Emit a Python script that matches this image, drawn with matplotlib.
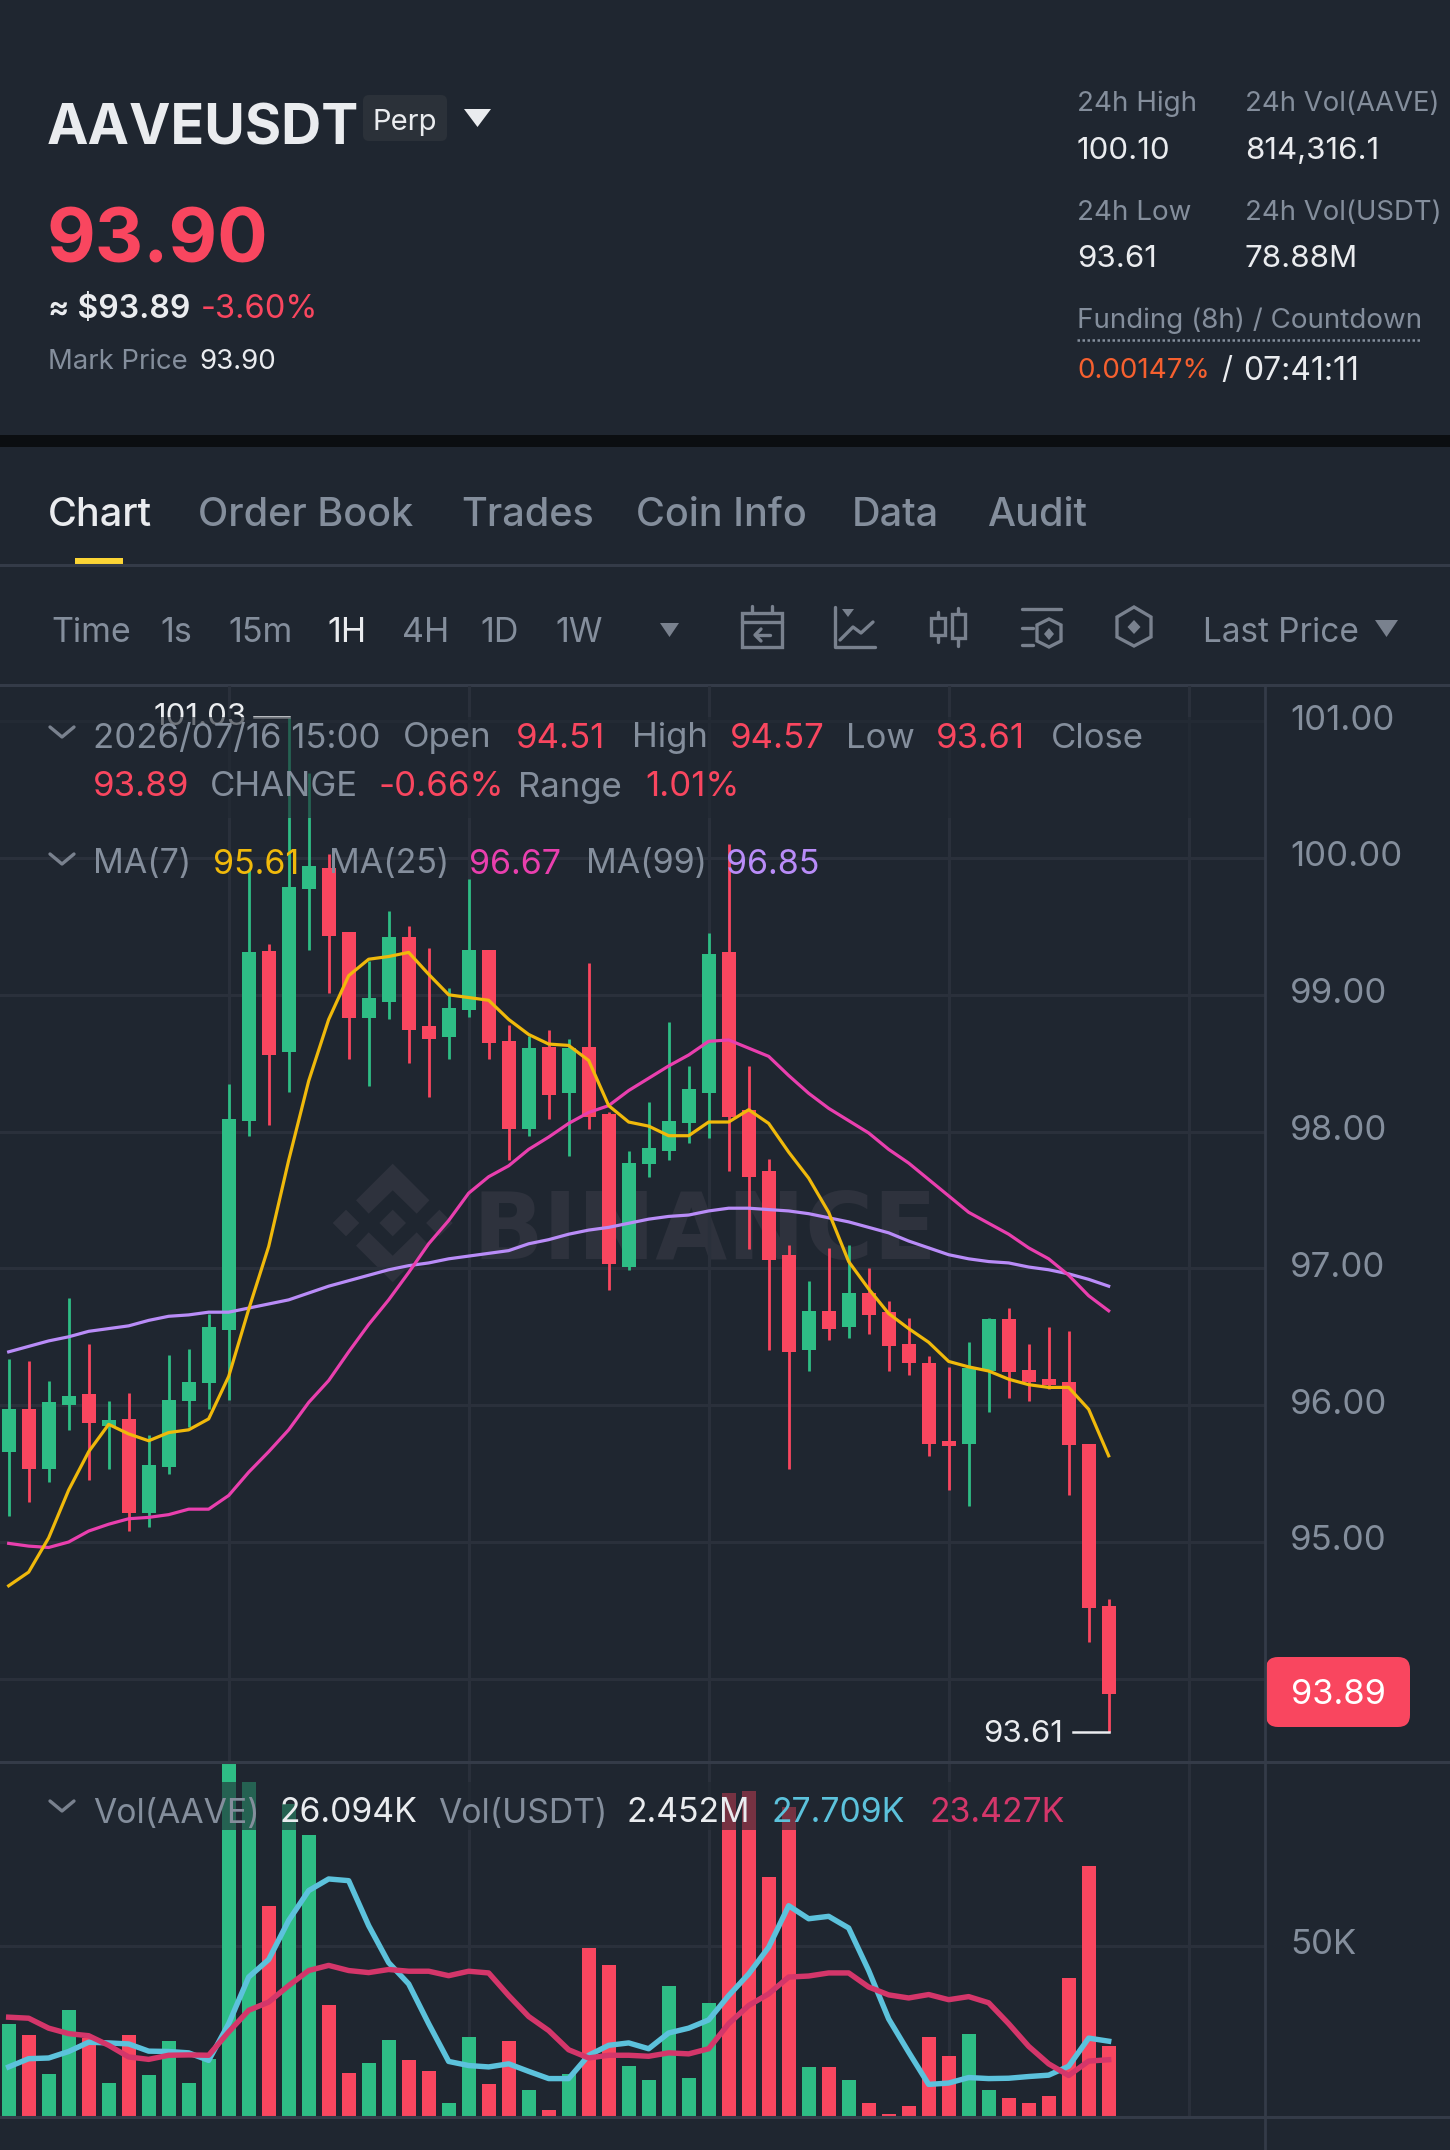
import matplotlib
matplotlib.use("Agg")
import matplotlib.pyplot as plt
from matplotlib.patches import Rectangle, Polygon, FancyBboxPatch
from matplotlib.transforms import ScaledTranslation

W, H = 1450, 2150
BG = "#1F2630"
GRID = "#2A303B"
BORDER = "#343B48"
GREEN = "#2EBD85"
RED = "#F9465F"
GREY = "#848E9C"
WHITE = "#EAECEF"
ICON = "#79818E"
YELLOW = "#F0B90B"
PINK = "#E93FAE"
PURPLE = "#B98CF8"
VOL_BLUE = "#5CC2DC"
VOL_RED = "#D4366A"

plt.rcParams["font.family"] = ["Inter", "DejaVu Sans"]

opens = [95.66, 95.97, 95.53, 96.00, 96.08, 95.85, 95.90, 95.21, 95.55, 96.03, 96.16, 96.55, 98.08, 99.32,
         98.58, 99.77, 99.93, 99.46, 98.83, 98.95, 99.42, 98.77, 98.69, 98.89, 99.33, 98.66, 98.02, 98.62,
         98.28, 98.62, 98.13, 97.01, 97.76, 97.86, 98.06, 98.28, 99.31, 98.16, 97.71, 97.10, 96.40, 96.69,
         96.57, 96.82, 96.68, 96.45, 96.31, 95.74, 95.72, 96.25, 96.63, 96.26, 96.19, 96.17, 95.72, 94.53]
closes = [95.97, 95.53, 96.02, 96.07, 95.87, 95.89, 95.21, 95.56, 96.04, 96.17, 96.57, 98.09, 99.31, 98.56,
          99.79, 99.94, 99.43, 98.83, 98.98, 99.42, 98.74, 98.68, 98.90, 99.33, 98.65, 98.02, 98.61, 98.27,
          98.61, 98.11, 97.03, 97.77, 97.88, 98.08, 98.31, 99.30, 98.11, 97.67, 97.06, 96.39, 96.69, 96.56,
          96.82, 96.66, 96.43, 96.31, 95.72, 95.70, 96.27, 96.63, 96.24, 96.17, 96.15, 95.71, 94.52, 93.89]
highs = [96.34, 96.32, 96.18, 96.78, 96.45, 96.03, 96.09, 95.78, 96.37, 96.41, 96.67, 98.35, 99.92, 99.37,
         101.03, 100.62, 100.03, 99.46, 99.25, 99.61, 99.50, 99.34, 99.05, 99.85, 99.33, 98.78, 98.70, 98.74,
         98.68, 99.23, 98.14, 97.86, 98.22, 98.80, 98.48, 99.45, 100.10, 98.48, 97.80, 97.17, 96.91, 97.15,
         97.17, 97.00, 96.76, 96.64, 96.36, 96.28, 96.46, 96.64, 96.71, 96.45, 96.57, 96.54, 95.72, 94.58]
lows = [95.19, 95.29, 95.44, 95.82, 95.45, 95.53, 95.08, 95.11, 95.50, 95.84, 95.97, 96.04, 97.97, 98.05,
        98.29, 99.33, 99.01, 98.53, 98.33, 98.82, 98.50, 98.25, 98.53, 98.84, 98.53, 97.79, 97.97, 98.09,
        97.82, 98.02, 96.84, 96.99, 97.67, 97.79, 97.92, 97.95, 97.71, 97.14, 96.40, 95.53, 96.25, 96.48,
        96.49, 96.52, 96.25, 96.22, 95.63, 95.38, 95.26, 95.95, 96.05, 96.03, 96.12, 95.34, 94.27, 93.61]
ma7 = [94.68, 94.78, 95.03, 95.38, 95.66, 95.86, 95.79, 95.74, 95.80, 95.82, 95.90, 96.21, 96.70, 97.16,
       97.79, 98.37, 98.82, 99.14, 99.26, 99.28, 99.31, 99.15, 99.00, 98.98, 98.96, 98.82, 98.71, 98.64,
       98.63, 98.52, 98.19, 98.07, 98.04, 97.97, 97.97, 98.07, 98.07, 98.16, 98.06, 97.85, 97.66, 97.41,
       97.05, 96.85, 96.67, 96.56, 96.46, 96.32, 96.28, 96.25, 96.19, 96.15, 96.13, 96.13, 95.97, 95.63]
ma25 = [94.99, 94.97, 94.96, 95.00, 95.08, 95.13, 95.17, 95.18, 95.20, 95.24, 95.24, 95.34, 95.51, 95.66,
        95.82, 96.02, 96.18, 96.39, 96.59, 96.77, 96.97, 97.18, 97.35, 97.55, 97.67, 97.75, 97.87, 97.96,
        98.06, 98.14, 98.19, 98.30, 98.39, 98.48, 98.56, 98.66, 98.67, 98.61, 98.55, 98.41, 98.28, 98.17,
        98.08, 97.99, 97.87, 97.77, 97.65, 97.53, 97.41, 97.33, 97.25, 97.15, 97.07, 96.95, 96.80, 96.69]
ma99 = [96.39, 96.43, 96.47, 96.50, 96.54, 96.56, 96.58, 96.62, 96.65, 96.66, 96.68, 96.68, 96.71, 96.74,
        96.77, 96.82, 96.87, 96.91, 96.95, 96.99, 97.02, 97.04, 97.07, 97.09, 97.11, 97.13, 97.18, 97.21,
        97.25, 97.28, 97.30, 97.33, 97.36, 97.38, 97.39, 97.42, 97.44, 97.44, 97.43, 97.42, 97.40, 97.37,
        97.34, 97.30, 97.26, 97.20, 97.15, 97.10, 97.07, 97.05, 97.04, 97.01, 96.99, 96.96, 96.92, 96.87]

# volume in thousands
volumes = [27.2, 23.8, 12.6, 31.3, 23.0, 9.9, 23.8, 12.3, 22.3, 10.0, 16.8, 102.9, 97.8, 61.6, 91.3, 82.1,
           32.7, 12.9, 15.8, 22.5, 16.7, 13.5, 4.2, 23.2, 9.5, 22.1, 7.9, 1.9, 12.6, 49.3, 44.3, 14.8, 10.9,
           38.1, 11.5, 33.3, 94.5, 95.1, 70.1, 90.3, 14.7, 14.7, 10.7, 4.2, 1.0, 3.1, 23.3, 17.7, 24.2, 8.0,
           5.6, 4.1, 6.2, 40.6, 73.2, 20.6]
vol_ma_fast = [14.6, 17.0, 17.2, 19.1, 21.8, 21.6, 21.3, 19.2, 19.1, 18.7, 16.5, 27.2, 40.8, 45.9, 57.3, 66.0,
               69.4, 68.9, 55.8, 45.0, 38.8, 27.2, 16.2, 15.0, 14.6, 15.5, 13.3, 11.2, 11.2, 18.0, 20.9, 21.6,
               19.9, 24.5, 25.9, 28.3, 35.4, 41.7, 49.5, 61.6, 57.8, 58.5, 55.1, 42.7, 28.6, 18.9, 9.5, 9.9,
               11.5, 11.2, 11.3, 11.8, 12.2, 14.8, 23.0, 22.1]
vol_ma_slow = [29.1, 28.8, 25.9, 24.3, 23.7, 20.9, 17.5, 16.8, 18.0, 18.1, 18.0, 24.8, 31.1, 33.5, 38.3, 42.7,
               44.2, 42.7, 42.1, 43.0, 42.5, 42.5, 41.2, 42.5, 42.0, 35.4, 29.3, 25.2, 19.6, 17.2, 18.0, 18.0,
               17.7, 18.7, 18.4, 19.9, 27.2, 32.5, 35.9, 40.8, 41.1, 42.0, 42.0, 37.9, 35.6, 34.7, 35.7, 34.2,
               35.1, 33.3, 27.2, 20.6, 15.5, 12.1, 16.3, 16.7]

price_ticks = [94, 95, 96, 97, 98, 99, 100, 101]
price_tick_labels = ["", "95.00", "96.00", "97.00", "98.00", "99.00", "100.00", "101.00"]
time_grid = [11, 23, 35, 47, 59]

tabs = [("Chart", 48, WHITE), ("Order Book", 198, GREY), ("Trades", 461, GREY),
        ("Coin Info", 636, GREY), ("Data", 852, GREY), ("Audit", 987, GREY)]
intervals = [("Time", 51, GREY), ("1s", 160, GREY), ("15m", 228, GREY), ("1H", 327, WHITE),
             ("4H", 402, GREY), ("1D", 480, GREY), ("1W", 555, GREY)]


def px_axes(fig, zorder):
    # axes in screen pixels, y going down
    ax = fig.add_axes([0, 0, 1, 1], zorder=zorder)
    ax.set_xlim(0, W)
    ax.set_ylim(H, 0)
    ax.axis("off")
    ax.patch.set_alpha(0)
    return ax


def chart_axes(fig, top, bottom, ylim):
    left, right = 0, 1265
    ax = fig.add_axes([left / W, 1 - bottom / H, (right - left) / W, (bottom - top) / H], zorder=1)
    ax.patch.set_alpha(0)
    # one candle every 20 px, first one centred at 8.67 px
    ax.set_xlim(-8.67 / 20, (right - 8.67) / 20)
    ax.set_ylim(*ylim)
    for side in ["top", "left", "bottom", "right"]:
        ax.spines[side].set_visible(False)
    ax.set_xticks(time_grid)
    ax.tick_params(axis="x", length=0, labelbottom=False)
    ax.yaxis.tick_right()
    ax.tick_params(axis="y", length=0, pad=18, labelsize=25, labelcolor=GREY)
    ax.grid(True, color=GRID, linewidth=2.2)
    ax.set_axisbelow(True)
    return ax


def raise_tick_labels(ax, px):
    # the labels sit a little above their grid line
    shift = ScaledTranslation(0, px / 100, ax.figure.dpi_scale_trans)
    for label in ax.get_yticklabels():
        label.set_transform(label.get_transform() + shift)


def txt(ax, x, y, s, size, color=GREY, weight="normal", ha="left"):
    return ax.text(x, y, s, fontsize=size, color=color, fontweight=weight, ha=ha, va="center_baseline")


def poly(ax, pts, cx=0, cy=0, **kw):
    ax.add_patch(Polygon([(cx + a, cy + b) for a, b in pts], closed=True, **kw))


def stroke(ax, xs, ys, color=ICON, lw=2.4):
    ax.plot(xs, ys, color=color, lw=lw, solid_capstyle="round", solid_joinstyle="round")


fig = plt.figure(figsize=(W / 100, H / 100), dpi=100, facecolor=BG)
back = px_axes(fig, 0)
front = px_axes(fig, 2)

# header
back.add_patch(Rectangle((0, 435), W, 12, color="#0B0E11", lw=0))
txt(back, 47, 124, "AAVEUSDT", 40, WHITE, "bold")
back.add_patch(FancyBboxPatch((363, 95), 84, 46, boxstyle="round,pad=0,rounding_size=6", fc="#2B3139", ec="none"))
txt(back, 405, 120, "Perp", 21, WHITE, ha="center")
poly(back, [(464, 109), (491, 109), (477.5, 127)], fc=WHITE, lw=0)
txt(back, 47, 235, "93.90", 54, RED, "bold")
txt(back, 48, 306, "≈ $93.89", 23, WHITE, "semibold")
txt(back, 201, 306, "-3.60%", 23.5, RED)
txt(back, 48, 359, "Mark Price", 19.8, GREY)
txt(back, 199, 359, "93.90", 20, WHITE)

stats = [(1077, 101, "24h High", GREY, 20), (1245, 101, "24h Vol(AAVE)", GREY, 19.8),
         (1077, 148, "100.10", WHITE, 22.5), (1245, 148, "814,316.1", WHITE, 22.5),
         (1077, 210, "24h Low", GREY, 20), (1245, 210, "24h Vol(USDT)", GREY, 19.8),
         (1077, 256, "93.61", WHITE, 22.5), (1245, 256, "78.88M", WHITE, 22.5),
         (1077, 318, "Funding (8h) / Countdown", GREY, 20)]
for x, y, s, c, size in stats:
    txt(back, x, y, s, size, c)
back.plot([1077, 1422], [340, 340], color=GREY, lw=1.8, ls=(0, (1, 1)))
txt(back, 1077, 368, "0.00147%", 20, "#F6602F")
txt(back, 1221, 368, "/", 22, WHITE)
txt(back, 1243, 368, "07:41:11", 23, WHITE)

# tabs and interval bar
for s, x, c in tabs:
    txt(back, x, 512, s, 28.5, c, "medium")
back.plot([0, W], [565, 565], color=BORDER, lw=2.2)
back.add_patch(Rectangle((75, 558), 48, 9, color="#FCD535", lw=0))
for s, x, c in intervals:
    txt(back, x, 630, s, 24.5, c)
txt(back, 1203, 630, "Last Price", 24, GREY)
poly(back, [(660, 623), (679, 623), (669.5, 637)], fc=ICON, lw=0)
poly(back, [(1375, 620), (1398, 620), (1386.5, 637)], fc=ICON, lw=0)
back.plot([0, W], [685, 685], color=BORDER, lw=2.2)

# toolbar icons
back.add_patch(Rectangle((742, 613), 40, 34, fc="none", ec=ICON, lw=2.4))
stroke(back, [742, 782], [622, 622])
stroke(back, [752, 752], [606, 613])
stroke(back, [772, 772], [606, 613])
stroke(back, [770, 756], [635, 635])
stroke(back, [761, 755, 761], [629, 635, 641])
stroke(back, [835, 835, 875], [607, 647, 647])
poly(back, [(842, 609), (854, 609), (848, 617)], fc=ICON, lw=0)
stroke(back, [840, 853, 861, 873], [640, 627, 633, 622])
back.add_patch(Rectangle((931, 618), 14, 17, fc="none", ec=ICON, lw=2.4))
stroke(back, [938, 938], [612, 618])
stroke(back, [938, 938], [635, 642])
back.add_patch(Rectangle((952, 614), 13, 24, fc="none", ec=ICON, lw=2.4))
stroke(back, [958, 958], [608, 614])
stroke(back, [958, 958], [638, 646])
stroke(back, [1022, 1061], [609, 609])
stroke(back, [1022, 1033], [628, 628])
stroke(back, [1022, 1033], [645, 645])
hexagon = [(0, -14), (12, -8), (12, 8), (0, 14), (-12, 8), (-12, -8)]
poly(back, hexagon, 1049, 633, fc="none", ec=ICON, lw=2.4)
poly(back, [(0, -6), (5, 0), (0, 6), (-5, 0)], 1049, 634, fc=ICON, lw=0)
hexagon2 = [(0, -20), (17, -10), (17, 10), (0, 19), (-17, 10), (-17, -10)]
poly(back, hexagon2, 1134, 627, fc="none", ec=ICON, lw=2.4)
poly(back, [(0, -7), (6.5, 0), (0, 7), (-6.5, 0)], 1134, 627, fc=ICON, lw=0)

# watermark
MARK = "#2E323D"
cx, cy = 392.7, 1223
chevron = [(0, -59.3), (36.7, -22.7), (24, -9.3), (0, -32.7), (-24, -9.3), (-36.7, -22.7)]
poly(back, chevron, cx, cy, fc=MARK, lw=0)
poly(back, [(a, -b) for a, b in chevron], cx, cy, fc=MARK, lw=0)
diamond = [(0, -13.3), (13.3, 0), (0, 13.3), (-13.3, 0)]
for dx in (-46.7, 0, 46.7):
    poly(back, diamond, cx + dx, cy, fc=MARK, lw=0)
back.text(473, 1224, "BINANCE", fontsize=67, color=MARK, fontweight="bold", family="DejaVu Sans", va="center_baseline")

# price panel, 136.8 px per unit with 100.00 at y=858
price_ax = chart_axes(fig, 686, 1762, (100 - (1762 - 858) / 136.8, 100 + (858 - 686) / 136.8))
price_ax.set_yticks(price_ticks, price_tick_labels)
raise_tick_labels(price_ax, 4)
idx = list(range(len(opens)))
colors = [GREEN if c >= o else RED for o, c in zip(opens, closes)]
price_ax.vlines(idx, lows, highs, colors=colors, linewidth=2.0, zorder=3)
bottoms = [min(o, c) for o, c in zip(opens, closes)]
heights = [max(abs(c - o), 0.03) for o, c in zip(opens, closes)]
price_ax.bar(idx, heights, bottom=bottoms, width=0.7, color=colors, linewidth=0, zorder=3)
price_ax.plot(idx, ma99, color=PURPLE, lw=2.3, zorder=4)
price_ax.plot(idx, ma25, color=PINK, lw=2.3, zorder=4)
price_ax.plot(idx, ma7, color=YELLOW, lw=2.3, zorder=4)

hi = highs.index(max(highs))
lo = lows.index(min(lows))
price_ax.plot([hi - 1.75, hi], [highs[hi]] * 2, color=WHITE, lw=1.8, zorder=5)
price_ax.annotate(f"{highs[hi]:.2f}", (hi - 2.1, highs[hi]), xytext=(0, 2), textcoords="offset points",
                  color=WHITE, fontsize=22.5, ha="right", va="center_baseline")
price_ax.plot([lo - 1.8, lo], [lows[lo]] * 2, color=WHITE, lw=1.8, zorder=5)
price_ax.annotate(f"{lows[lo]:.2f}", (lo - 2.3, lows[lo]), xytext=(0, 1), textcoords="offset points",
                  color=WHITE, fontsize=22.5, ha="right", va="center_baseline")

# volume panel, 3.43 px per thousand
vol_ax = chart_axes(fig, 1762, 2117, (0, (2117 - 1762) / 3.43))
vol_ax.set_yticks([50], ["50K"])
raise_tick_labels(vol_ax, 4)
vol_ax.bar(idx, volumes, width=0.7, color=colors, linewidth=0, zorder=3)
vol_ax.plot(idx, vol_ma_fast, color=VOL_BLUE, lw=3.9, zorder=4)
vol_ax.plot(idx, vol_ma_slow, color=VOL_RED, lw=3.9, zorder=4)

# panel borders and legends over the charts
front.plot([1265, 1265], [685, H], color=BORDER, lw=2.0)
front.plot([0, W], [1762, 1762], color=BORDER, lw=2.2)
front.plot([0, W], [2117, 2117], color=BORDER, lw=2.2)
front.add_patch(Rectangle((0, 717), 1265, 101, color=BG, alpha=0.6, lw=0))
front.add_patch(Rectangle((0, 1782), 1100, 48, color=BG, alpha=0.6, lw=0))


def chevron_down(ax, y):
    ax.plot([50, 62, 74], [y - 6, y + 4, y - 6], color=ICON, lw=2.4, solid_capstyle="round")


chevron_down(front, 733)
chevron_down(front, 860)
chevron_down(front, 1807)
legend_rows = [
    (735, 25, [(93, "2026/07/16 15:00", GREY), (403, "Open", GREY), (516, "94.51", RED), (632, "High", GREY),
               (730, "94.57", RED), (846, "Low", GREY), (936, "93.61", RED), (1051, "Close", GREY)]),
    (784, 25, [(93, "93.89", RED), (210, "CHANGE", GREY), (379, "-0.66%", RED), (518, "Range", GREY),
               (645, "1.01%", RED)]),
    (861, 24.5, [(93, "MA(7)", GREY), (213, "95.61", YELLOW), (329, "MA(25)", GREY), (469, "96.67", PINK),
                 (586, "MA(99)", GREY), (726, "96.85", PURPLE)]),
    (1810, 24.3, [(93, "Vol(AAVE)", GREY), (280, "26.094K", WHITE), (438, "Vol(USDT)", GREY), (627, "2.452M", WHITE),
                  (772, "27.709K", VOL_BLUE), (930, "23.427K", VOL_RED)]),
]
for y, size, items in legend_rows:
    for x, s, c in items:
        txt(front, x, y, s, size, c)

# last price tag
front.add_patch(FancyBboxPatch((1278, 1669), 120, 46, boxstyle="round,pad=12,rounding_size=12",
                               fc=RED, ec="none"))
txt(front, 1338, 1692, "93.89", 24.8, "white", ha="center")

fig.savefig("out.png", dpi=100, facecolor=BG)
